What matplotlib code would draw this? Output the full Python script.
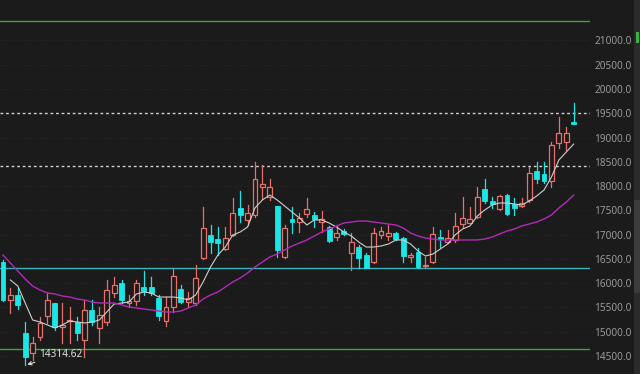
import numpy as np
import matplotlib
matplotlib.use("Agg")
import matplotlib.pyplot as plt
from matplotlib.patches import Rectangle

# daily candles
opens = [16436, 15654, 15757, 14974, 14562, 14891, 15324, 15592, 15097, 15221,
         15200, 14830, 15448, 15077, 15200, 15798, 16004, 15592, 15633, 15921,
         15921, 15695, 15221, 15509, 15880, 15612, 15592, 16519, 16993, 16910,
         16704, 16993, 17549, 17302, 17405, 17981, 17775, 17590, 16539, 17322,
         17260, 17425, 17405, 17260, 17157, 16951, 17075, 16622, 16745, 16581,
         16436, 16993, 16972, 17034, 16931, 16539, 16642, 16354, 16436, 16951,
         16848, 16890, 17219, 17240, 17363, 17940, 17693, 17528, 17816, 17631,
         17590, 17714, 18311, 18249, 18105, 18888, 18908, 19320]
highs = [16478, 15901, 15901, 15200, 14891, 15303, 15798, 15600, 15592, 15509,
         15303, 15654, 15654, 15509, 16066, 16127, 16066, 15757, 16066, 16251,
         16127, 15757, 15715, 16313, 15963, 15818, 16375, 17569, 17199, 17157,
         17157, 17754, 17899, 17611, 18496, 18435, 18146, 17600, 17199, 17569,
         17446, 17754, 17466, 17487, 17178, 17199, 17116, 17034, 16787, 16622,
         17137, 17157, 17199, 17054, 16951, 16622, 16725, 16539, 17157, 17096,
         17096, 17446, 17775, 17569, 17981, 18146, 17775, 17816, 17837, 17754,
         17754, 18393, 18496, 18496, 18908, 19423, 19217, 19712]
lows = [15633, 15386, 15468, 14314.62, 14418, 14830, 15180, 15036, 14768, 14768,
        14830, 14479, 15139, 14768, 15139, 15715, 15592, 15509, 15551, 15757,
        15757, 15242, 15118, 15406, 15592, 15509, 15551, 16498, 16622, 16581,
        16684, 16972, 17260, 17199, 17363, 17734, 17714, 16539, 16519, 17034,
        17054, 17363, 17157, 17054, 16848, 16890, 16993, 16272, 16313, 16313,
        16416, 16931, 16890, 16890, 16436, 16436, 16313, 16313, 16416, 16745,
        16828, 16848, 17157, 17240, 17343, 17652, 17549, 17508, 17405, 17405,
        17569, 17672, 18064, 18064, 17981, 18785, 18744, 19279]
closes = [15654, 15757, 15551, 14479, 14768, 15180, 15654, 15097, 15139, 15242,
          14974, 15448, 15200, 15345, 15860, 15963, 15654, 15633, 16004, 15839,
          15798, 15324, 15509, 16148, 15612, 15695, 16107, 17137, 16848, 16828,
          16931, 17446, 17405, 17446, 18146, 18043, 17981, 16684, 17137, 17260,
          17343, 17528, 17322, 17322, 16869, 17034, 17013, 16848, 16519, 16313,
          17034, 17075, 17034, 16910, 16560, 16581, 16333, 16375, 17013, 16910,
          16931, 17178, 17343, 17322, 17775, 17693, 17631, 17796, 17425, 17549,
          17652, 18270, 18146, 18105, 18847, 19094, 19094, 19279]

# short and long moving averages as drawn
ma_short = [None, 16066, 15942, 15592, 15242, 15200, 15139, 15077, 15139, 15221,
            15200, 15180, 15200, 15242, 15406, 15571, 15592, 15612, 15777, 15818,
            15798, 15715, 15715, 15715, 15695, 15654, 15757, 16024, 16333, 16581,
            16745, 16993, 17054, 17157, 17549, 17714, 17816, 17714, 17590, 17466,
            17343, 17199, 17302, 17302, 17240, 17157, 17054, 16972, 16848, 16745,
            16745, 16766, 16807, 16890, 16890, 16807, 16663, 16560, 16601, 16704,
            16807, 16993, 17116, 17178, 17384, 17508, 17611, 17652, 17652, 17631,
            17611, 17693, 17796, 17920, 18187, 18538, 18702, 18867]
ma_long = [16581, 16416, 16251, 16086, 15942, 15860, 15798, 15777, 15736, 15715,
           15674, 15654, 15612, 15592, 15592, 15592, 15551, 15509, 15489, 15468,
           15448, 15427, 15406, 15406, 15427, 15489, 15551, 15674, 15757, 15818,
           15921, 16024, 16107, 16210, 16333, 16436, 16539, 16601, 16684, 16766,
           16828, 16890, 16972, 17054, 17116, 17178, 17240, 17260, 17281, 17281,
           17260, 17240, 17219, 17199, 17137, 17034, 16972, 16931, 16910, 16890,
           16890, 16890, 16890, 16890, 16890, 16910, 16951, 17013, 17075, 17116,
           17178, 17219, 17260, 17322, 17405, 17549, 17672, 17817]

green_levels = [21401, 14644]
cyan_level = 16313
dashed_levels = [19500, 18424]
low_label = "14314.62"
yticks = [14500, 15000, 15500, 16000, 16500, 17000, 17500, 18000, 18500,
          19000, 19500, 20000, 20500, 21000]

BG = '#1b1b1b'
UP = '#e8706a'
DOWN = '#19e6e6'

fig = plt.figure(figsize=(6.4, 3.74), dpi=100, facecolor=BG)
ax = fig.add_axes([0, 0, 590 / 640, 1], facecolor=BG)

n = len(closes)
x = np.arange(n)
w = 0.66

for lvl in yticks:
    ax.axhline(lvl, color='#282828', lw=0.8, ls=(0, (1, 2)), zorder=0)

for i in range(n):
    o, h, l, c = opens[i], highs[i], lows[i], closes[i]
    col = UP if c >= o else DOWN
    ax.plot([x[i], x[i]], [l, h], color=col, lw=0.9, zorder=2)
    bottom = min(o, c)
    height = max(abs(c - o), 8)
    if c >= o:
        r = Rectangle((x[i] - w / 2, bottom), w, height, facecolor=BG,
                      edgecolor=col, lw=0.9, zorder=3)
    else:
        r = Rectangle((x[i] - w / 2, bottom), w, height, facecolor=col,
                      edgecolor=col, lw=0.6, zorder=3)
    ax.add_patch(r)

ms = np.array([np.nan if v is None else v for v in ma_short], dtype=float)
ax.plot(x, ms, color='#cfcfcf', lw=0.8, zorder=4)
ax.plot(x, ma_long, color='#b22ab8', lw=1.0, zorder=4)

for lvl in green_levels:
    ax.axhline(lvl, color='#3ca83c', lw=1.0, zorder=1)
ax.axhline(cyan_level, color='#36b4bc', lw=1.0, zorder=1)
for lvl in dashed_levels:
    ax.axhline(lvl, color='#d0d0d0', lw=1.0, ls=(0, (2, 2)), zorder=1)

ax.annotate(low_label, xy=(3.1, lows[3]), xytext=(4.85, 14530),
            color='#e0e0e0', fontsize=7.2, family='Noto Sans',
            ha='left', va='center',
            arrowprops=dict(arrowstyle='->', color='#e0e0e0', lw=0.8,
                            shrinkA=1, shrinkB=1, mutation_scale=6))

ax.set_xlim(-0.4, 79.2)
ax.set_ylim(14129, 21834)
ax.set_xticks([])
ax.set_yticks(yticks)
ax.set_yticklabels(['{:.1f}'.format(v) for v in yticks])
ax.yaxis.tick_right()
ax.tick_params(axis='y', length=0, pad=3, labelsize=7.2, labelcolor='#9a9a9a')
for lab in ax.get_yticklabels():
    lab.set_family('Noto Sans')
for s in ax.spines.values():
    s.set_visible(False)

# scrollbar strip on the right edge
fig.patches.append(Rectangle((634 / 640, 0), 6 / 640, 1, transform=fig.transFigure,
                             facecolor='#2b2b2b', edgecolor='none'))
fig.patches.append(Rectangle((634 / 640, 1 - 293 / 374), 6 / 640, 93 / 374,
                             transform=fig.transFigure, facecolor='#3c3c3c',
                             edgecolor='none'))
fig.patches.append(Rectangle((636 / 640, 1 - 43 / 374), 3 / 640, 11 / 374,
                             transform=fig.transFigure, facecolor='#3cb043',
                             edgecolor='none'))

fig.savefig('out.png', dpi=100, facecolor=BG)
